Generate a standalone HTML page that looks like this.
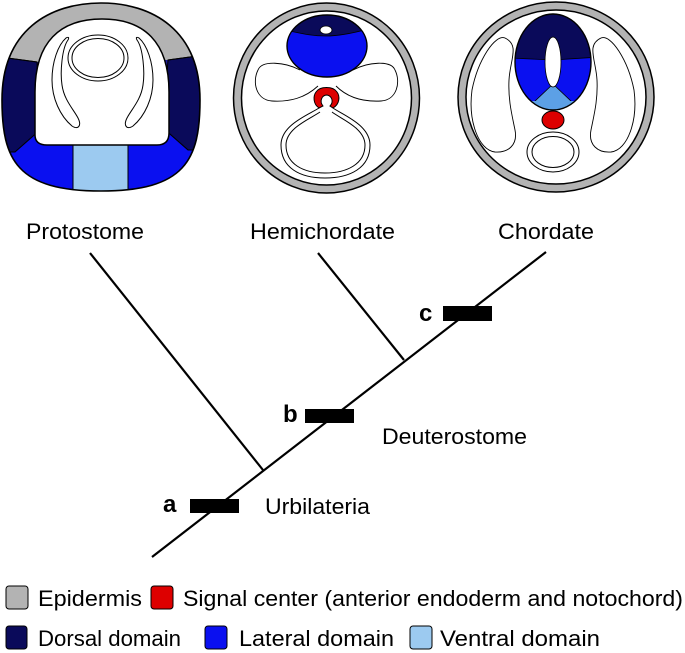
<!DOCTYPE html>
<html><head><meta charset="utf-8"><style>
html,body{margin:0;padding:0;background:#fff;}
svg{display:block;}
text{font-family:"Liberation Sans",Arial,sans-serif;fill:#000;}
</style></head><body>
<svg width="685" height="653" viewBox="0 0 685 653" xmlns="http://www.w3.org/2000/svg">
<defs>
<clipPath id="po"><path d="M2 100 C2 30 50 3 101 3 C152 3 200 30 200 100 C200 160 185 191 101 191 C17 191 2 160 2 100 Z"/></clipPath>
<clipPath id="nt"><ellipse cx="553" cy="62" rx="38" ry="48"/></clipPath>
<clipPath id="hb"><ellipse cx="327" cy="46" rx="40" ry="31"/></clipPath>
</defs>
<!-- Protostome -->
<g clip-path="url(#po)">
<rect x="0" y="0" width="205" height="195" fill="#1d1d9e"/>
<polygon points="0,0 205,0 205,55 168,60 101,60 37,62 0,57" fill="#b3b3b3"/>
<polygon points="0,57 37,62 40,130 15,152 0,152" fill="#0a0a5a" stroke="#000" stroke-width="1"/>
<polygon points="205,55 168,60 163,128 188,150 205,150" fill="#0a0a5a" stroke="#000" stroke-width="1"/>
<polygon points="0,152 15,152 40,130 163,128 188,150 205,150 205,195 0,195" fill="#0a10f0" stroke="#000" stroke-width="1"/>
<rect x="73" y="140" width="55" height="55" fill="#9ccaf0" stroke="#000" stroke-width="1"/>
<line x1="0" y1="57" x2="37" y2="62" stroke="#000"/>
<line x1="205" y1="55" x2="168" y2="60" stroke="#000"/>
</g>
<path d="M2 100 C2 30 50 3 101 3 C152 3 200 30 200 100 C200 160 185 191 101 191 C17 191 2 160 2 100 Z" fill="none" stroke="#000" stroke-width="1.6"/>
<path d="M35 135 L35 92 C35 42 60 19 102 19 C144 19 169 42 169 92 L169 133 Q169 145 157 145 L47 145 Q35 145 35 135 Z" fill="#fff" stroke="#000" stroke-width="1.5"/>
<ellipse cx="98" cy="58" rx="30" ry="23" fill="none" stroke="#000" stroke-width="1"/>
<ellipse cx="98" cy="58" rx="26" ry="19.5" fill="none" stroke="#000" stroke-width="1"/>
<path d="M68 40 C62 48 60 72 62 85 C64 100 74 110 78 118 C82 126 78 130 72 126 C60 116 52 98 52 80 C52 62 58 45 66 38 Q70 36 68 40 Z" fill="none" stroke="#000" stroke-width="1"/>
<path d="M137 40 C143 48 145 72 143 85 C141 100 131 110 127 118 C123 126 127 130 133 126 C145 116 153 98 153 80 C153 62 147 45 139 38 Q135 36 137 40 Z" fill="none" stroke="#000" stroke-width="1"/>
<!-- Hemichordate -->
<ellipse cx="326.5" cy="98" rx="93" ry="95" fill="#b3b3b3" stroke="#000" stroke-width="1.5"/>
<ellipse cx="326.5" cy="98" rx="85" ry="87" fill="#fff" stroke="#000" stroke-width="1.5"/>
<path d="M300 70 C285 62 262 60 258 70 C252 82 256 100 272 101 C290 102 305 98 318 86" fill="#fff" stroke="#000" stroke-width="0.9"/>
<path d="M353 70 C368 62 391 60 395 70 C401 82 397 100 381 101 C363 102 348 98 336 86" fill="#fff" stroke="#000" stroke-width="0.9"/>
<g clip-path="url(#hb)">
<rect x="280" y="10" width="95" height="75" fill="#0a10f0"/>
<path d="M280 10 L375 10 L375 27 C355 33 340 36 326 36 C310 36 300 33 280 29 Z" fill="#0a0a5a" stroke="#000" stroke-width="0.8"/>
</g>
<ellipse cx="327" cy="46" rx="40" ry="31" fill="none" stroke="#000" stroke-width="1.4"/>
<ellipse cx="326" cy="30" rx="6" ry="4" fill="#fff" stroke="#000" stroke-width="0.8"/>
<path d="M319 108 C308 115 281 125 281 145 C281 168 300 178 325 178 C350 178 370 168 370 145 C370 125 343 115 333 108" fill="none" stroke="#000" stroke-width="1"/>
<path d="M320 112 C310 119 286 128 286 145 C286 164 303 173 325 173 C347 173 365 164 365 145 C365 128 341 119 332 112" fill="none" stroke="#000" stroke-width="1"/>
<path d="M319 108 C313 104 313 96 316 92 C320 86 333 86 337 92 C340 96 340 104 333 108 L330 106 C334 102 332 96 327 95 C322 95 319 101 323 106 Z" fill="#dd0000" stroke="#000" stroke-width="1"/>
<!-- Chordate -->
<ellipse cx="556" cy="97" rx="98" ry="95" fill="#b3b3b3" stroke="#000" stroke-width="1.5"/>
<ellipse cx="556" cy="97" rx="90" ry="87" fill="#fff" stroke="#000" stroke-width="1.5"/>
<path d="M505 38 C495 34 478 60 472 90 C468 120 478 150 495 152 C508 153 518 145 515 130 C512 115 508 100 509 80 C510 60 520 45 505 38 Z" fill="none" stroke="#000" stroke-width="0.9"/>
<path d="M601 38 C611 34 628 60 634 90 C638 120 628 150 611 152 C598 153 588 145 591 130 C594 115 598 100 597 80 C596 60 586 45 601 38 Z" fill="none" stroke="#000" stroke-width="0.9"/>
<g clip-path="url(#nt)">
<rect x="510" y="10" width="90" height="110" fill="#0a10f0"/>
<polygon points="510,10 600,10 600,57 553,60 510,58" fill="#0a0a5a" stroke="#000" stroke-width="0.8"/>
<polygon points="553,84 533,103 573,103" fill="#5ca0e6" stroke="#000" stroke-width="0.8"/>
<rect x="520" y="101" width="66" height="15" fill="#5ca0e6"/>
</g>
<ellipse cx="553" cy="62" rx="38" ry="48" fill="none" stroke="#000" stroke-width="1.4"/>
<ellipse cx="553" cy="62" rx="8" ry="25" fill="#fff" stroke="#000" stroke-width="0.8"/>
<ellipse cx="553" cy="120" rx="11" ry="9" fill="#dd0000" stroke="#000" stroke-width="1"/>
<ellipse cx="553" cy="152" rx="26" ry="20" fill="none" stroke="#000" stroke-width="1"/>
<ellipse cx="553" cy="152" rx="21" ry="15.5" fill="none" stroke="#000" stroke-width="1"/>
<!-- Tree -->
<g stroke="#000" stroke-width="2.2" fill="none">
<line x1="152" y1="557" x2="546" y2="252"/>
<line x1="90" y1="253" x2="263" y2="470"/>
<line x1="318" y1="253" x2="404" y2="360"/>
</g>
<rect x="443" y="306" width="49" height="15" fill="#000"/>
<rect x="305" y="409" width="49" height="14" fill="#000"/>
<rect x="190" y="499" width="49" height="14" fill="#000"/>
<text x="419" y="321" font-size="24" font-weight="bold">c</text>
<text x="283" y="422" font-size="24" font-weight="bold">b</text>
<text x="163" y="512" font-size="24" font-weight="bold">a</text>
<text x="26" y="239" font-size="22" textLength="118" lengthAdjust="spacingAndGlyphs">Protostome</text>
<text x="250" y="239" font-size="22" textLength="145" lengthAdjust="spacingAndGlyphs">Hemichordate</text>
<text x="498" y="239" font-size="22" textLength="96" lengthAdjust="spacingAndGlyphs">Chordate</text>
<text x="382" y="444" font-size="22" textLength="145" lengthAdjust="spacingAndGlyphs">Deuterostome</text>
<text x="265" y="514" font-size="22" textLength="105" lengthAdjust="spacingAndGlyphs">Urbilateria</text>
<!-- Legend -->
<g stroke="#000" stroke-width="1">
<rect x="6" y="586" width="22" height="23" rx="3" fill="#b3b3b3"/>
<rect x="151" y="586" width="22" height="23" rx="3" fill="#dd0000"/>
<rect x="6" y="626" width="21" height="23" rx="3" fill="#0a0a5a"/>
<rect x="205" y="626" width="22" height="23" rx="3" fill="#0a10f0"/>
<rect x="410" y="626" width="22" height="23" rx="3" fill="#9ccaf0"/>
</g>
<text x="38" y="606" font-size="22" textLength="104" lengthAdjust="spacingAndGlyphs">Epidermis</text>
<text x="183" y="606" font-size="22" textLength="500" lengthAdjust="spacingAndGlyphs">Signal center (anterior endoderm and notochord)</text>
<text x="38" y="646" font-size="22" textLength="143" lengthAdjust="spacingAndGlyphs">Dorsal domain</text>
<text x="239" y="646" font-size="22" textLength="155" lengthAdjust="spacingAndGlyphs">Lateral domain</text>
<text x="440" y="646" font-size="22" textLength="160" lengthAdjust="spacingAndGlyphs">Ventral domain</text>
</svg>
</body></html>
